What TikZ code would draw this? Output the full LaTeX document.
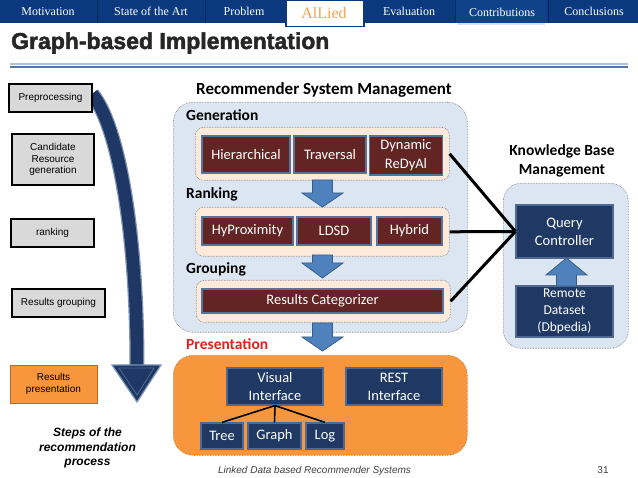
\documentclass[tikz,border=0pt]{standalone}
\usepackage{fontspec}
\setmainfont{Liberation Sans}
\newfontfamily\carl{Carlito}
\newfontfamily\tms{Liberation Serif}
\newfontfamily\ttl[BoldFeatures={FakeBold=2}]{Liberation Sans}
\definecolor{barblue}{RGB}{10,58,125}
\definecolor{barline}{RGB}{4,38,92}
\definecolor{tabhi}{RGB}{16,66,138}
\definecolor{tabor}{RGB}{245,163,75}
\definecolor{lblue}{RGB}{220,230,242}
\definecolor{peach}{RGB}{253,234,218}
\definecolor{dred}{RGB}{99,37,35}
\definecolor{itemedge}{RGB}{85,115,155}
\definecolor{navy}{RGB}{31,56,100}
\definecolor{navyedge}{RGB}{80,105,145}
\definecolor{orng}{RGB}{247,150,60}
\definecolor{orngedge}{RGB}{190,105,35}
\definecolor{barrow}{RGB}{79,129,189}
\definecolor{barrowedge}{RGB}{56,93,138}
\definecolor{bignavy}{RGB}{30,55,100}
\definecolor{bigedge}{RGB}{125,148,182}
\definecolor{stepgray}{RGB}{217,217,217}
\definecolor{redlbl}{RGB}{222,35,30}
\definecolor{dotgray}{RGB}{115,115,115}
\definecolor{titlegray}{RGB}{38,38,38}
\definecolor{ruleA}{RGB}{175,195,218}
\definecolor{ruleB}{RGB}{85,118,165}
\newcommand\blockdown[4]{%
  \filldraw[fill=barrow, draw=barrowedge, line width=0.8pt, line join=miter]
    (#1-10,#2) -- (#1+10,#2) -- (#1+10,#3) -- (#1+20.5,#3) -- (#1,#4)
    -- (#1-20.5,#3) -- (#1-10,#3) -- cycle;}
\begin{document}
\begin{tikzpicture}[x=1pt,y=-1pt,
  item/.style={draw=itemedge, line width=1.2pt, fill=dred, text=white,
    font=\carl\fontsize{14.5}{19}\selectfont, align=center, inner sep=0pt},
  navybox/.style={draw=navyedge, line width=1.2pt, fill=navy, text=white,
    font=\carl\fontsize{14.5}{18}\selectfont, align=center, inner sep=0pt},
  stepbox/.style={draw=black, line width=1.4pt, fill=stepgray,
    font=\fontsize{10}{11.5}\selectfont, align=center, inner sep=0pt},
  cont/.style={draw=dotgray, densely dotted, line width=0.6pt, inner sep=0pt, anchor=north west},
  lbl/.style={font=\carl\bfseries\fontsize{15.5}{18}\selectfont, anchor=base west, inner sep=0pt},
  tab/.style={font=\tms\fontsize{12}{14}\selectfont, text=white, anchor=base, inner sep=0pt}]
\useasboundingbox (0,0) rectangle (638,478);
\fill[white] (0,0) rectangle (638,478);
% top bar
\fill[barblue] (0,0) rectangle (638,23);
\fill[tabhi] (455,0) rectangle (547,23);
\fill[black!12] (457,23) rectangle (545,25);
\foreach \xx in {97,205,455,548} \draw[barline, line width=1pt] (\xx,0) -- (\xx,23);
\node[draw=barblue, line width=1.5pt, fill=white, minimum width=78, minimum height=26, anchor=north west, inner sep=0pt] (tabA) at (285,0) {};
\node[tab] (t1) at (48,15.5) {Motivation};
\node[tab] (t2) at (151,15.5) {State of the Art};
\node[tab] (t3) at (244,15.5) {Problem};
\node[font=\tms\fontsize{16}{18}\selectfont, text=tabor, anchor=base, inner sep=0pt] (t4) at (324,18.5) {AlLied};
\node[tab] (t5) at (409,15.5) {Evaluation};
\node[tab] (t6) at (502,17) {Contributions};
\node[tab] (t7) at (594,15.5) {Conclusions};
% title
\node[font=\ttl\bfseries\fontsize{23}{26}\selectfont, text=titlegray, anchor=base west, inner sep=0pt] (title) at (11,49) {Graph-based Implementation};
\draw[ruleA, line width=2pt] (10,64) -- (628,64);
\draw[ruleB, line width=1.2pt] (10,67) -- (628,67);
% big curved arrow
\draw[bigedge, line width=15pt] (92,94) .. controls (118,125) and (137,230) .. (137,366);
\draw[bignavy, line width=12.5pt] (92,94) .. controls (118,125) and (137,230) .. (137,366);
\filldraw[fill=bignavy, draw=bigedge, line width=1.2pt, line join=miter] (112,365) -- (161,365) -- (137,402) -- cycle;
\draw[navyedge, line width=0.8pt] (119,368) -- (154,368) -- (137,395) -- cycle;
% left step boxes
\node[stepbox, minimum width=83, minimum height=28] (pre) at (50.5,98) {Preprocessing};
\node[stepbox, minimum width=82, minimum height=51] (cand) at (53,159.5) {Candidate\\Resource\\generation};
\node[stepbox, minimum width=83, minimum height=28] (rankL) at (52.5,233) {ranking};
\node[stepbox, minimum width=93, minimum height=28] (grpL) at (58.5,303) {Results grouping};
\node[stepbox, draw=orngedge, line width=0.6pt, fill=orng, minimum width=87, minimum height=38, font=\fontsize{10}{12.5}\selectfont] (presL) at (53.5,384) {Results\\presentation};
\node[font=\bfseries\itshape\fontsize{12}{14.5}\selectfont, align=center, inner sep=0pt] (steps) at (87.5,448) {Steps of the\\recommendation\\process};
% containers
\node[cont, fill=lblue, rounded corners=20pt, minimum width=294, minimum height=230] (rsm) at (173,102) {};
\node[cont, fill=peach, rounded corners=8pt, minimum width=254, minimum height=53] (gen) at (195,127) {};
\node[cont, fill=peach, rounded corners=8pt, minimum width=254, minimum height=49] (rank) at (195,207) {};
\node[cont, fill=peach, rounded corners=8pt, minimum width=254, minimum height=42] (grp) at (196,280) {};
\node[cont, fill=orng, draw=orngedge, rounded corners=20pt, minimum width=294, minimum height=100] (pres) at (173,355) {};
\node[cont, fill=lblue, rounded corners=18pt, minimum width=125, minimum height=165] (kb) at (503,183) {};
% labels
\node[lbl, font=\carl\bfseries\fontsize{17}{20}\selectfont] (lrsm) at (196,95) {Recommender System Management};
\node[lbl] (lgen) at (186,121) {Generation};
\node[lbl] (lrank) at (186,199) {Ranking};
\node[lbl] (lgrp) at (186,274) {Grouping};
\node[lbl, text=redlbl] (lpres) at (186,350) {Presentation};
\node[font=\carl\bfseries\fontsize{15.5}{18.5}\selectfont, align=center, inner sep=0pt] (lkb) at (562,161) {Knowledge Base\\Management};
% items
\node[item, minimum width=88, minimum height=37] (hier) at (246,154.5) {Hierarchical};
\node[item, minimum width=72, minimum height=37] (trav) at (330,154.5) {Traversal};
\node[item, minimum width=73, minimum height=39] (dyn) at (406,155.5) {Dynamic\\ReDyAl};
\node[item, minimum width=91, minimum height=28] (hyp) at (247.5,231) {HyProximity};
\node[item, minimum width=74, minimum height=28] (ldsd) at (334,231) {LDSD};
\node[item, minimum width=65, minimum height=28] (hyb) at (409.5,231) {Hybrid};
\node[item, minimum width=241, minimum height=24] (cat) at (322.5,301) {Results Categorizer};
\node[navybox, minimum width=96, minimum height=37] (vis) at (275,386.5) {Visual\\Interface};
\node[navybox, minimum width=96, minimum height=37] (rest) at (394,386.5) {REST\\Interface};
\node[navybox, minimum width=42, minimum height=26] (tree) at (222,436) {Tree};
\node[navybox, minimum width=53, minimum height=26] (graph) at (274.5,436) {Graph};
\node[navybox, minimum width=38, minimum height=26] (log) at (325,436) {Log};
\node[navybox, minimum width=97, minimum height=53] (qc) at (564.5,231.5) {Query\\Controller};
\node[navybox, minimum width=97, minimum height=51, font=\carl\fontsize{13.5}{17}\selectfont] (rd) at (564.5,311.5) {Remote\\Dataset\\(Dbpedia)};
% block arrows
\blockdown{322.5}{180}{193}{207}
\blockdown{322.5}{255}{263}{278}
\blockdown{322.5}{323}{337}{351}
\blockdown{566.5}{286}{275}{258}
% connectors
\draw[black, line width=3pt] (gen.east) -- (qc.west);
\draw[black, line width=3pt] (rank.east) -- (qc.west);
\draw[black, line width=3pt] (grp.east) -- (qc.west);
\draw[black, line width=1.6pt] (vis.south) -- (tree.north);
\draw[black, line width=1.6pt] (vis.south) -- (graph.north);
\draw[black, line width=1.6pt] (vis.south) -- (log.north);
% footer
\node[font=\itshape\fontsize{10}{12}\selectfont, text=black!75, anchor=base, inner sep=0pt] (foot) at (314.5,474) {Linked Data based Recommender Systems};
\node[font=\fontsize{10}{12}\selectfont, text=black!75, anchor=base, inner sep=0pt] (pg) at (603,474) {31};
\end{tikzpicture}
\end{document}
